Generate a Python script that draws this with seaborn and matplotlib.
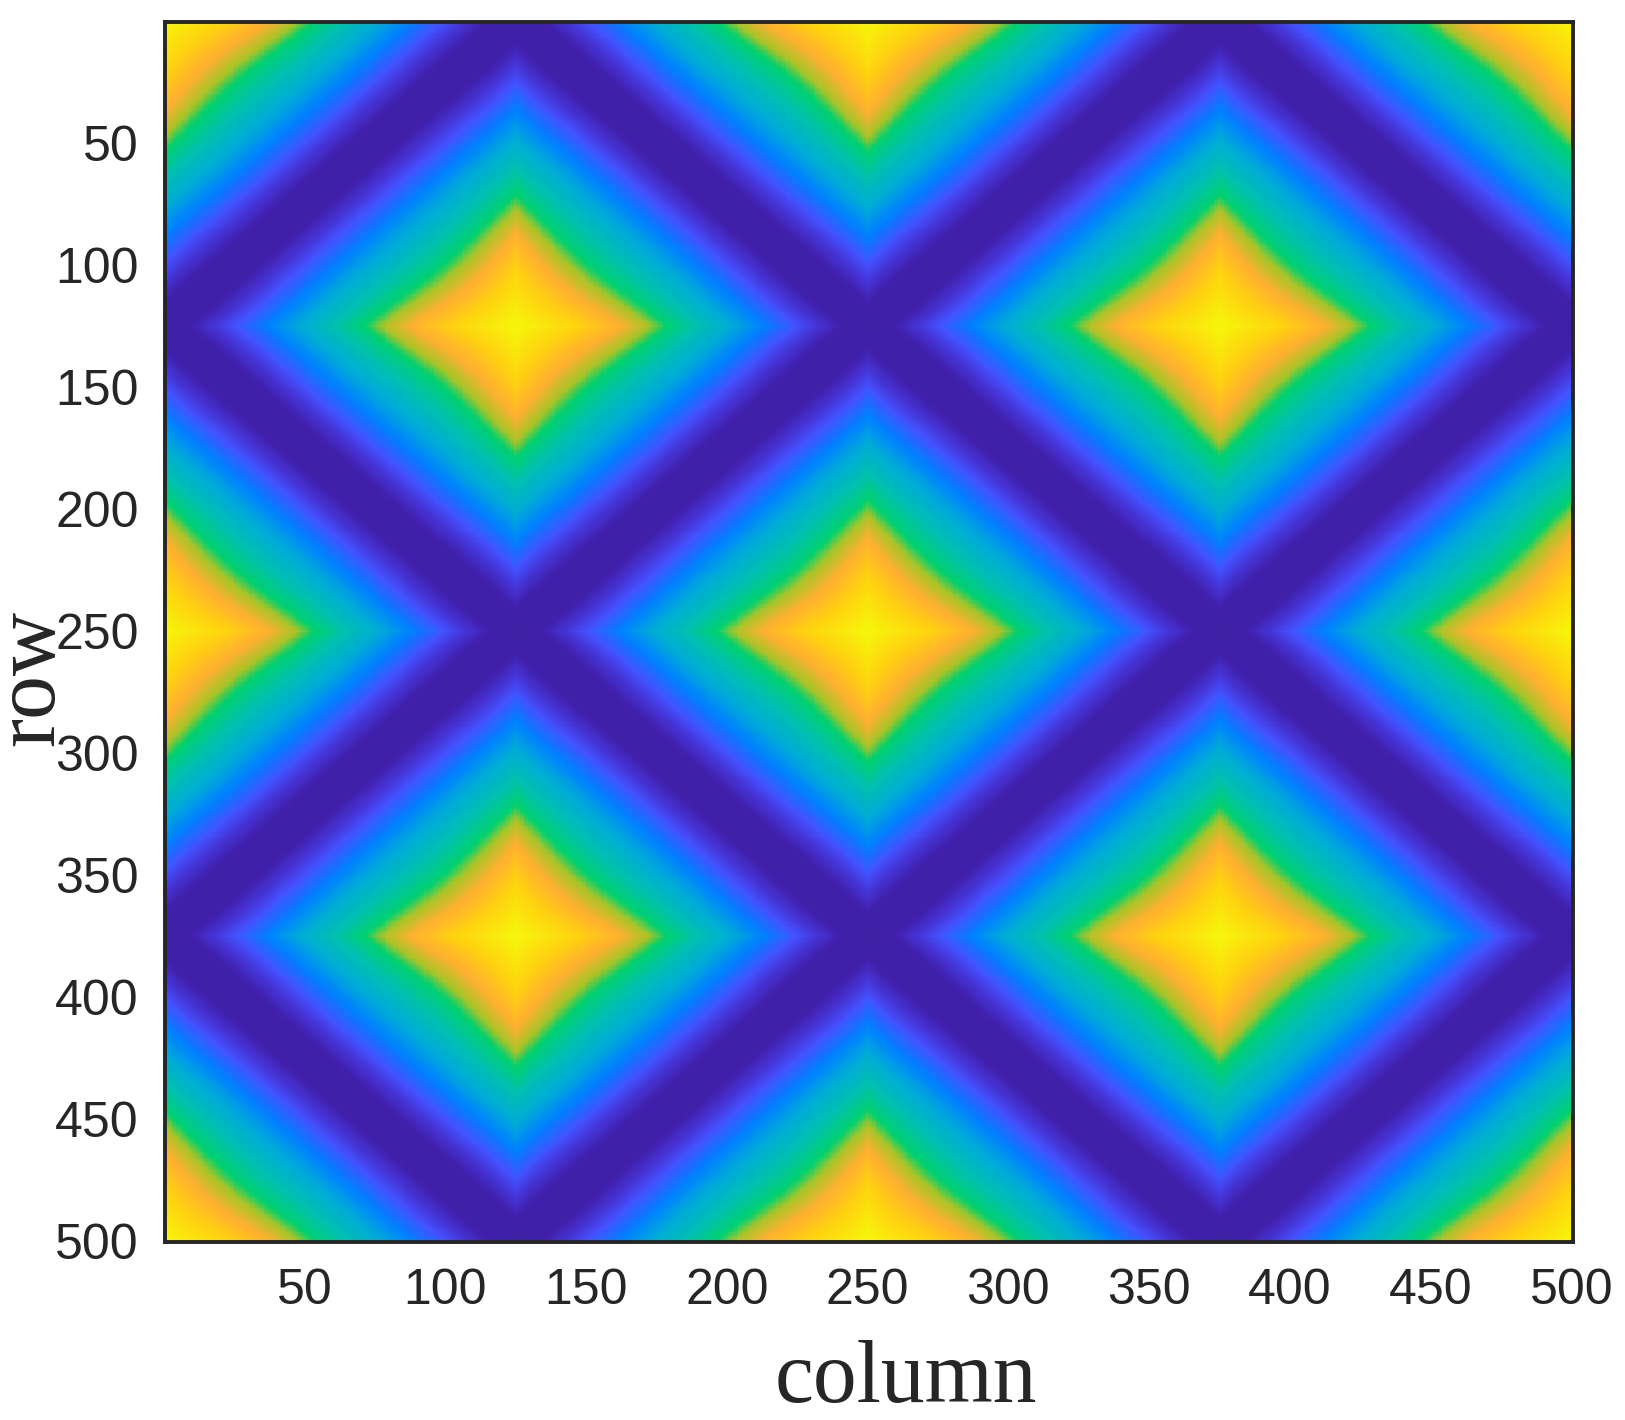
import numpy as np
import matplotlib
matplotlib.use("Agg")
import matplotlib.pyplot as plt
from matplotlib.colors import LinearSegmentedColormap
import seaborn as sns

# grid size and the spacing of the bright peaks
n_rows = 500
n_cols = 500
period = 250
pinch = 0.8   # how much the sides of the bright diamonds are pulled in

x_ticks = [50, 100, 150, 200, 250, 300, 350, 400, 450, 500]
y_ticks = [50, 100, 150, 200, 250, 300, 350, 400, 450, 500]

# colour stops sampled along a row, from the dark bands up to a peak
cmap_pos = [0.0, 0.07, 0.13, 0.20, 0.29, 0.38, 0.48, 0.57, 0.62, 0.70, 0.81, 1.0]
cmap_hex = ["#3e20a6", "#4020aa", "#4530d0", "#4352ff", "#0080ff", "#00aad8",
            "#00c0b0", "#00d070", "#a8c428", "#ffb030", "#ffd010", "#f6f60a"]

sns.set_style("ticks")
plt.rcParams["font.family"] = ["Liberation Sans", "DejaVu Sans"]

cols = np.arange(1, n_cols + 1)
rows = np.arange(1, n_rows + 1)


def tri(v):
    # +1 on multiples of the period, -1 half way between
    return 4 * np.abs(np.mod(v, period) / period - 0.5) - 1


a = tri(cols)[None, :]
b = tri(rows)[:, None]
field = np.abs(a + b) / 2
field = field * (1 - pinch * (1 - a**2) * (1 - b**2) * (a * b) ** 2)

cmap = LinearSegmentedColormap.from_list("pk", list(zip(cmap_pos, cmap_hex)))

fig = plt.figure(figsize=(16.25, 14.2), dpi=100)
ax = fig.add_axes([165 / 1625, 1 - 1242 / 1420, 1408 / 1625, 1220 / 1420])
sns.heatmap(field, cmap=cmap, vmin=0, vmax=1, cbar=False,
            xticklabels=False, yticklabels=False, ax=ax, rasterized=True)

ax.set_xticks([c - 0.5 for c in x_ticks])
ax.set_xticklabels([str(c) for c in x_ticks])
ax.set_yticks([r - 0.5 for r in y_ticks])
ax.set_yticklabels([str(r) for r in y_ticks], rotation=0)

for s in ax.spines.values():
    s.set_visible(True)
    s.set_linewidth(2.8)
    s.set_color("#262626")

ax.tick_params(direction="in", length=11.5, width=2.4, color="#262626",
               labelcolor="#262626", labelsize=36, top=True, right=True)
ax.tick_params(axis="x", pad=19)
ax.tick_params(axis="y", pad=19)

fig.text(906 / 1625, 1 - 1402 / 1420, "column", family="Liberation Serif",
         fontsize=63, ha="center", va="baseline")
fig.text(53 / 1625, 1 - 678 / 1420, "row", family="Liberation Serif",
         fontsize=63, ha="center", va="baseline", rotation=90,
         rotation_mode="anchor")

fig.savefig("out.png", dpi=100)
